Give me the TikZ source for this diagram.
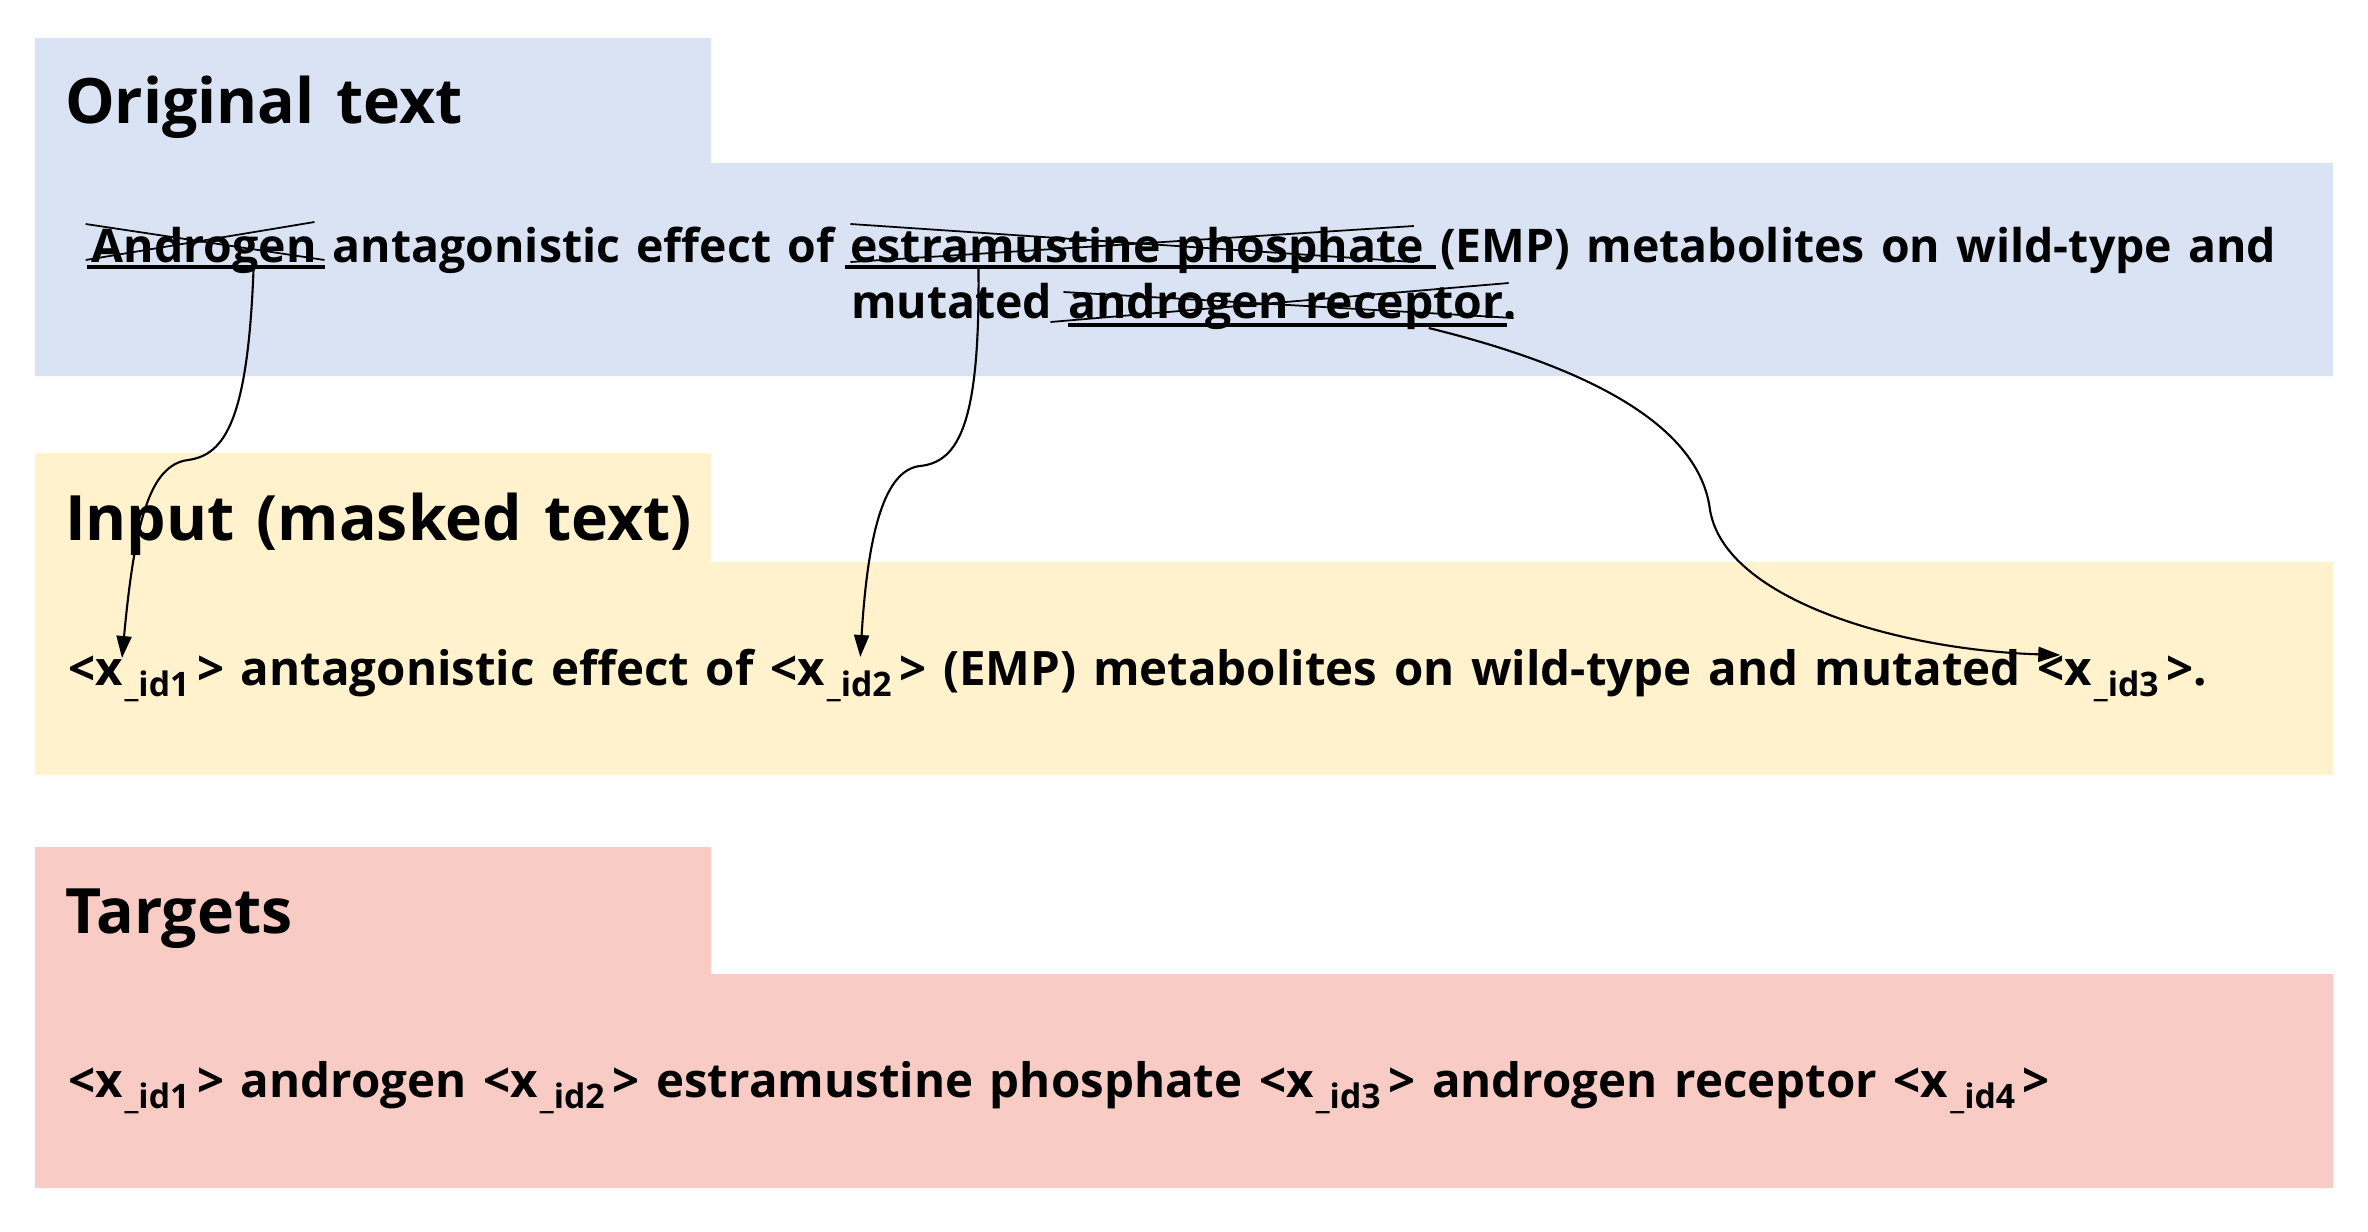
\documentclass[tikz,border=0pt]{standalone}
\usepackage{fontspec}
\setmainfont{Open Sans}[WordSpace=1.35]
\usetikzlibrary{calc,arrows.meta}
\definecolor{bandblue}{HTML}{DAE3F3}
\definecolor{bandyellow}{HTML}{FFF2CC}
\definecolor{bandpink}{HTML}{F8CBC5}
\newlength\lineonew
\newlength\linetwow
\newcommand\bodyfont{\fontsize{13.2pt}{16pt}\selectfont\bfseries}
\newcommand\maskfont{\fontsize{13.5pt}{16pt}\selectfont\bfseries}
\newcommand\titlefont{\fontsize{17.8pt}{21pt}\selectfont\bfseries}
\newcommand\xid[1]{<x\kern0.6pt\raisebox{-3.3pt}{\fontsize{9.6pt}{10pt}\selectfont\_id#1}\kern2.2pt>}
\begin{document}
\settowidth\lineonew{\bodyfont Androgen antagonistic effect of estramustine phosphate (EMP) metabolites on wild-type and}%
\settowidth\linetwow{\bodyfont mutated androgen receptor.}%
\begin{tikzpicture}[x=0.1mm,y=-0.1mm,
  word/.style={inner sep=0pt,outer sep=0pt,anchor=base west,font=\bodyfont},
  mword/.style={word,font=\maskfont},
  titlelabel/.style={inner sep=0pt,outer sep=0pt,anchor=base west,font=\titlefont},
  uline/.style={line width=1.1pt},
  xline/.style={line width=0.5pt},
  link/.style={line width=0.6pt,-{Triangle[length=2.2mm,width=1.5mm]}}]
\useasboundingbox (0,0) rectangle (2368,1231);
% bands
\fill[bandblue] (35,38) -- (711,38) -- (711,163) -- (2333,163) -- (2333,376) -- (35,376) -- cycle;
\fill[bandyellow] (35,453) -- (711,453) -- (711,562) -- (2333,562) -- (2333,775) -- (35,775) -- cycle;
\fill[bandpink] (35,847) -- (711,847) -- (711,974) -- (2333,974) -- (2333,1188) -- (35,1188) -- cycle;
% titles
\node[titlelabel] (t1) at (65,123) {Original text};
\node[titlelabel] (t2) at (65,540) {Input (masked text)};
\node[titlelabel] (t3) at (65,933) {Targets};
% original text
\node[word] (o1) at ([xshift=-0.5\lineonew]1184,262) {Androgen};
\node[word] (o2) at (o1.base east) {\ antagonistic effect of\ \mbox{}};
\node[word] (o3) at (o2.base east) {estramustine phosphate};
\node[word] (o4) at (o3.base east) {\ (EMP) metabolites on wild-type and};
\node[word] (o5) at ([xshift=-0.5\linetwow]1184,318) {mutated\ \mbox{}};
\node[word] (o6) at (o5.base east) {androgen receptor};
\node[word] (o7) at (o6.base east) {.};
% input text
\node[mword] (i1) at (68,685) {\xid{1}};
\node[mword] (i2) at (i1.base east) {\ antagonistic effect of\ \mbox{}};
\node[mword] (i3) at (i2.base east) {\xid{2}};
\node[mword] (i4) at (i3.base east) {\ (EMP) metabolites on wild-type and mutated\ \mbox{}};
\node[mword] (i5) at (i4.base east) {\xid{3}};
\node[mword] (i6) at (i5.base east) {.};
% targets
\node[mword] (g1) at (68,1097) {\xid{1} androgen \xid{2} estramustine phosphate \xid{3} androgen receptor \xid{4}};
% marks
\draw[uline] ($(o1.base west)+(-5,5)$) -- ($(o1.base east)+(8,5)$);
\draw[xline] ($(o1.base west)+(-6,-38)$) -- ($(o1.base east)+(8,-2)$);
\draw[xline] ($(o1.base east)+(-2,-40)$) -- ($(o1.base west)+(-6,-2)$);
\draw[uline] ($(o3.base west)+(-5,5)$) -- ($(o3.base east)+(12,5)$);
\draw[xline] ($(o3.base west)+(0,-38)$) -- ($(o3.base east)+(-10,0)$);
\draw[xline] ($(o3.base east)+(-10,-36)$) -- ($(o3.base west)+(0,0)$);
\draw[uline] ($(o6.base west)+(0,7)$) -- ($(o6.base east)+(3,7)$);
\draw[xline] ($(o6.base west)+(-18,4)$) -- ($(o6.base east)+(5,-35)$);
\draw[xline] ($(o6.base west)+(-5,-26)$) -- ($(o6.base east)+(10,0)$);
% links
\draw[link] ($(o1.base west)!0.72!(o1.base east)+(0,6)$) .. controls (248,420) and (225,455) .. (188,460) .. controls (150,465) and (135,520) .. ($(i1.base west)+(54,-27)$);
\draw[link] ($(o3.base west)+(128,7)$) .. controls (980,420) and (960,462) .. (920,466) .. controls (885,470) and (868,530) .. ($(i3.base west)+(90,-28)$);
\draw[link] ($(o6.base east)+(-75,10)$) .. controls (1600,370) and (1700,430) .. (1710,510) .. controls (1725,600) and (1900,650) .. ($(i5.base west)+(23,-30)$);
\end{tikzpicture}
\end{document}
